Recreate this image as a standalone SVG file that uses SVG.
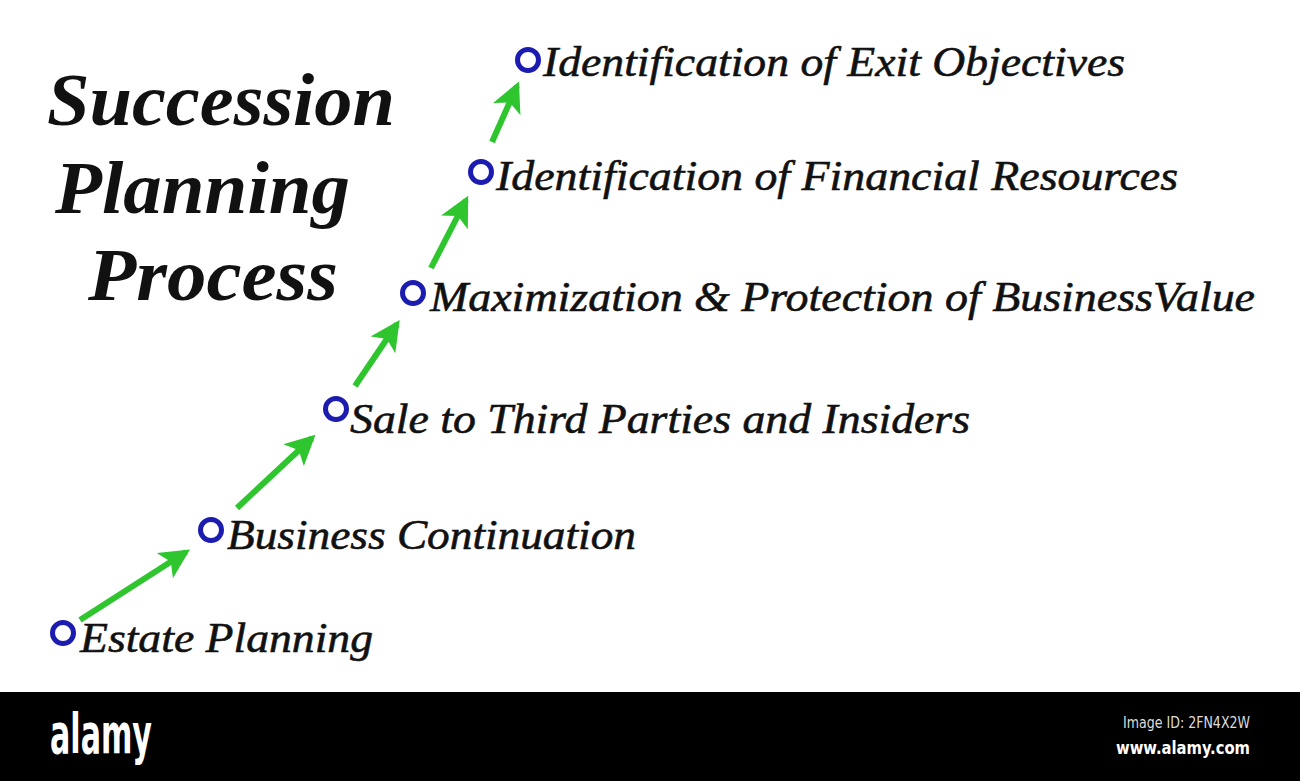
<svg xmlns="http://www.w3.org/2000/svg" width="1300" height="781" viewBox="0 0 1300 781">
<defs>
<marker id="ah" markerWidth="5" markerHeight="5" refX="4.2" refY="2.5" orient="auto" markerUnits="strokeWidth">
<path d="M0,0 L5,2.5 L0,5 L1.2,2.5 Z" fill="#2fc52f"/>
</marker>
<style>
.lbl{font-family:"Liberation Serif","Times New Roman",serif;font-style:italic;font-size:43px;fill:#111;stroke:#111;stroke-width:0.6}
.ttl{font-family:"Liberation Serif","Times New Roman",serif;font-style:italic;font-weight:bold;font-size:75px;fill:#111}
.dot{fill:none;stroke:#1c1cb0;stroke-width:5}
.arr{stroke:#2fc52f;stroke-width:6;fill:none;marker-end:url(#ah)}
</style>
</defs>
<rect width="1300" height="781" fill="#fff"/>
<g id="title">
<text class="ttl" x="47" y="125" textLength="348" lengthAdjust="spacingAndGlyphs">Succession</text>
<text class="ttl" x="55" y="213" textLength="295" lengthAdjust="spacingAndGlyphs">Planning</text>
<text class="ttl" x="88" y="300" textLength="250" lengthAdjust="spacingAndGlyphs">Process</text>
</g>
<g id="connectors">
<line class="arr" x1="80" y1="620" x2="186" y2="552"/>
<line class="arr" x1="237" y1="508" x2="312" y2="438"/>
<line class="arr" x1="355" y1="386" x2="397" y2="324"/>
<line class="arr" x1="431" y1="268" x2="466" y2="200"/>
<line class="arr" x1="492" y1="142" x2="517" y2="86"/>
</g>
<g id="n1"><circle class="dot" cx="63" cy="633" r="10.5"/><text class="lbl" x="80" y="652" textLength="293" lengthAdjust="spacingAndGlyphs">Estate Planning</text></g>
<g id="n2"><circle class="dot" cx="211" cy="530" r="10.5"/><text class="lbl" x="227" y="549" textLength="409" lengthAdjust="spacingAndGlyphs">Business Continuation</text></g>
<g id="n3"><circle class="dot" cx="336" cy="409" r="10.5"/><text class="lbl" x="350" y="433" textLength="620" lengthAdjust="spacingAndGlyphs">Sale to Third Parties and Insiders</text></g>
<g id="n4"><circle class="dot" cx="413" cy="293" r="10.5"/><text class="lbl" x="430" y="311" textLength="825" lengthAdjust="spacingAndGlyphs">Maximization &amp; Protection of BusinessValue</text></g>
<g id="n5"><circle class="dot" cx="481" cy="172" r="10.5"/><text class="lbl" x="496" y="190" textLength="682" lengthAdjust="spacingAndGlyphs">Identification of Financial Resources</text></g>
<g id="n6"><circle class="dot" cx="528" cy="60" r="10.5"/><text class="lbl" x="543" y="76" textLength="582" lengthAdjust="spacingAndGlyphs">Identification of Exit Objectives</text></g>
<g id="watermark">
<rect x="0" y="692" width="1300" height="89" fill="#000"/>
<text x="50" y="753" font-family="DejaVu Sans Condensed, DejaVu Sans, sans-serif" font-weight="bold" font-size="56" fill="#fff" textLength="102" lengthAdjust="spacingAndGlyphs">alamy</text>
<text x="1123" y="728" font-family="DejaVu Sans Condensed, DejaVu Sans, sans-serif" font-size="15" fill="#ddd" textLength="127" lengthAdjust="spacingAndGlyphs">Image ID: 2FN4X2W</text>
<text x="1116" y="754" font-family="DejaVu Sans Condensed, DejaVu Sans, sans-serif" font-weight="bold" font-size="18" fill="#fff" textLength="134" lengthAdjust="spacingAndGlyphs">www.alamy.com</text>
</g>
</svg>
